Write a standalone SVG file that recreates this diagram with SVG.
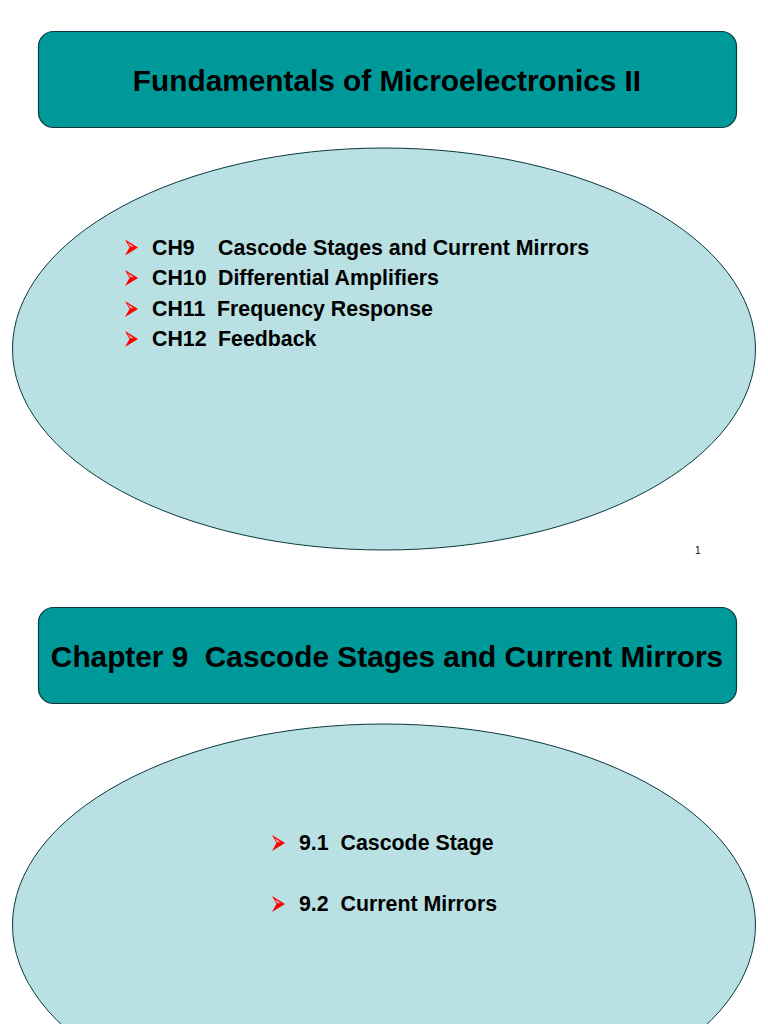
<svg xmlns="http://www.w3.org/2000/svg" width="768" height="1024" viewBox="0 0 768 1024">
<style>
.hdr{fill:#009999;stroke:#0a3a3f;stroke-width:1.2}
.ell{fill:#b9e0e3;stroke:#0a3a3f;stroke-width:1}
text{font-family:"Liberation Sans",Arial,sans-serif;fill:#000;white-space:pre}
.t{font-size:29.8px;font-weight:bold;text-anchor:middle}
.b{font-size:21.35px;font-weight:bold}
.n{font-size:10px}
.m{fill:#f00}
.f{fill:#f7a8a8}
</style>
<defs>
<g id="bul"><path class="m" d="M0 -8L13 0L0 8L4.500 0Z"/><path class="f" d="M2.500 -5L9 -0.800L5 -0.800Z"/></g>
</defs>
<rect width="768" height="1024" fill="#fff"/>
<g id="title1"><rect class="hdr" x="38.500" y="31.500" width="698" height="96" rx="15"/><text class="t" x="387" y="91">Fundamentals of Microelectronics II</text></g>
<g id="toc1"><ellipse class="ell" cx="384" cy="349" rx="371.500" ry="201"/>
<use href="#bul" x="125" y="247.500"/><text class="b" x="152" y="255">CH9</text><text class="b" x="218" y="255">Cascode Stages and Current Mirrors</text>
<use href="#bul" x="125" y="278"/><text class="b" x="152" y="285">CH10</text><text class="b" x="218" y="285">Differential Amplifiers</text>
<use href="#bul" x="125" y="309"/><text class="b" x="152" y="316">CH11</text><text class="b" x="217" y="316">Frequency Response</text>
<use href="#bul" x="125" y="339"/><text class="b" x="152" y="346">CH12</text><text class="b" x="218" y="346">Feedback</text>
</g>
<g id="page1"><text class="n" x="695" y="554">1</text></g>
<g id="title2"><rect class="hdr" x="38.500" y="607.500" width="698" height="96" rx="15"/><text class="t" x="387" y="667">Chapter 9  Cascode Stages and Current Mirrors</text></g>
<g id="toc2"><ellipse class="ell" cx="384" cy="925" rx="371.500" ry="201"/>
<use href="#bul" x="272" y="843"/><text class="b" x="299" y="850">9.1  Cascode Stage</text>
<use href="#bul" x="272" y="904"/><text class="b" x="299" y="911">9.2  Current Mirrors</text>
</g>
<g id="connectors"></g>
</svg>
